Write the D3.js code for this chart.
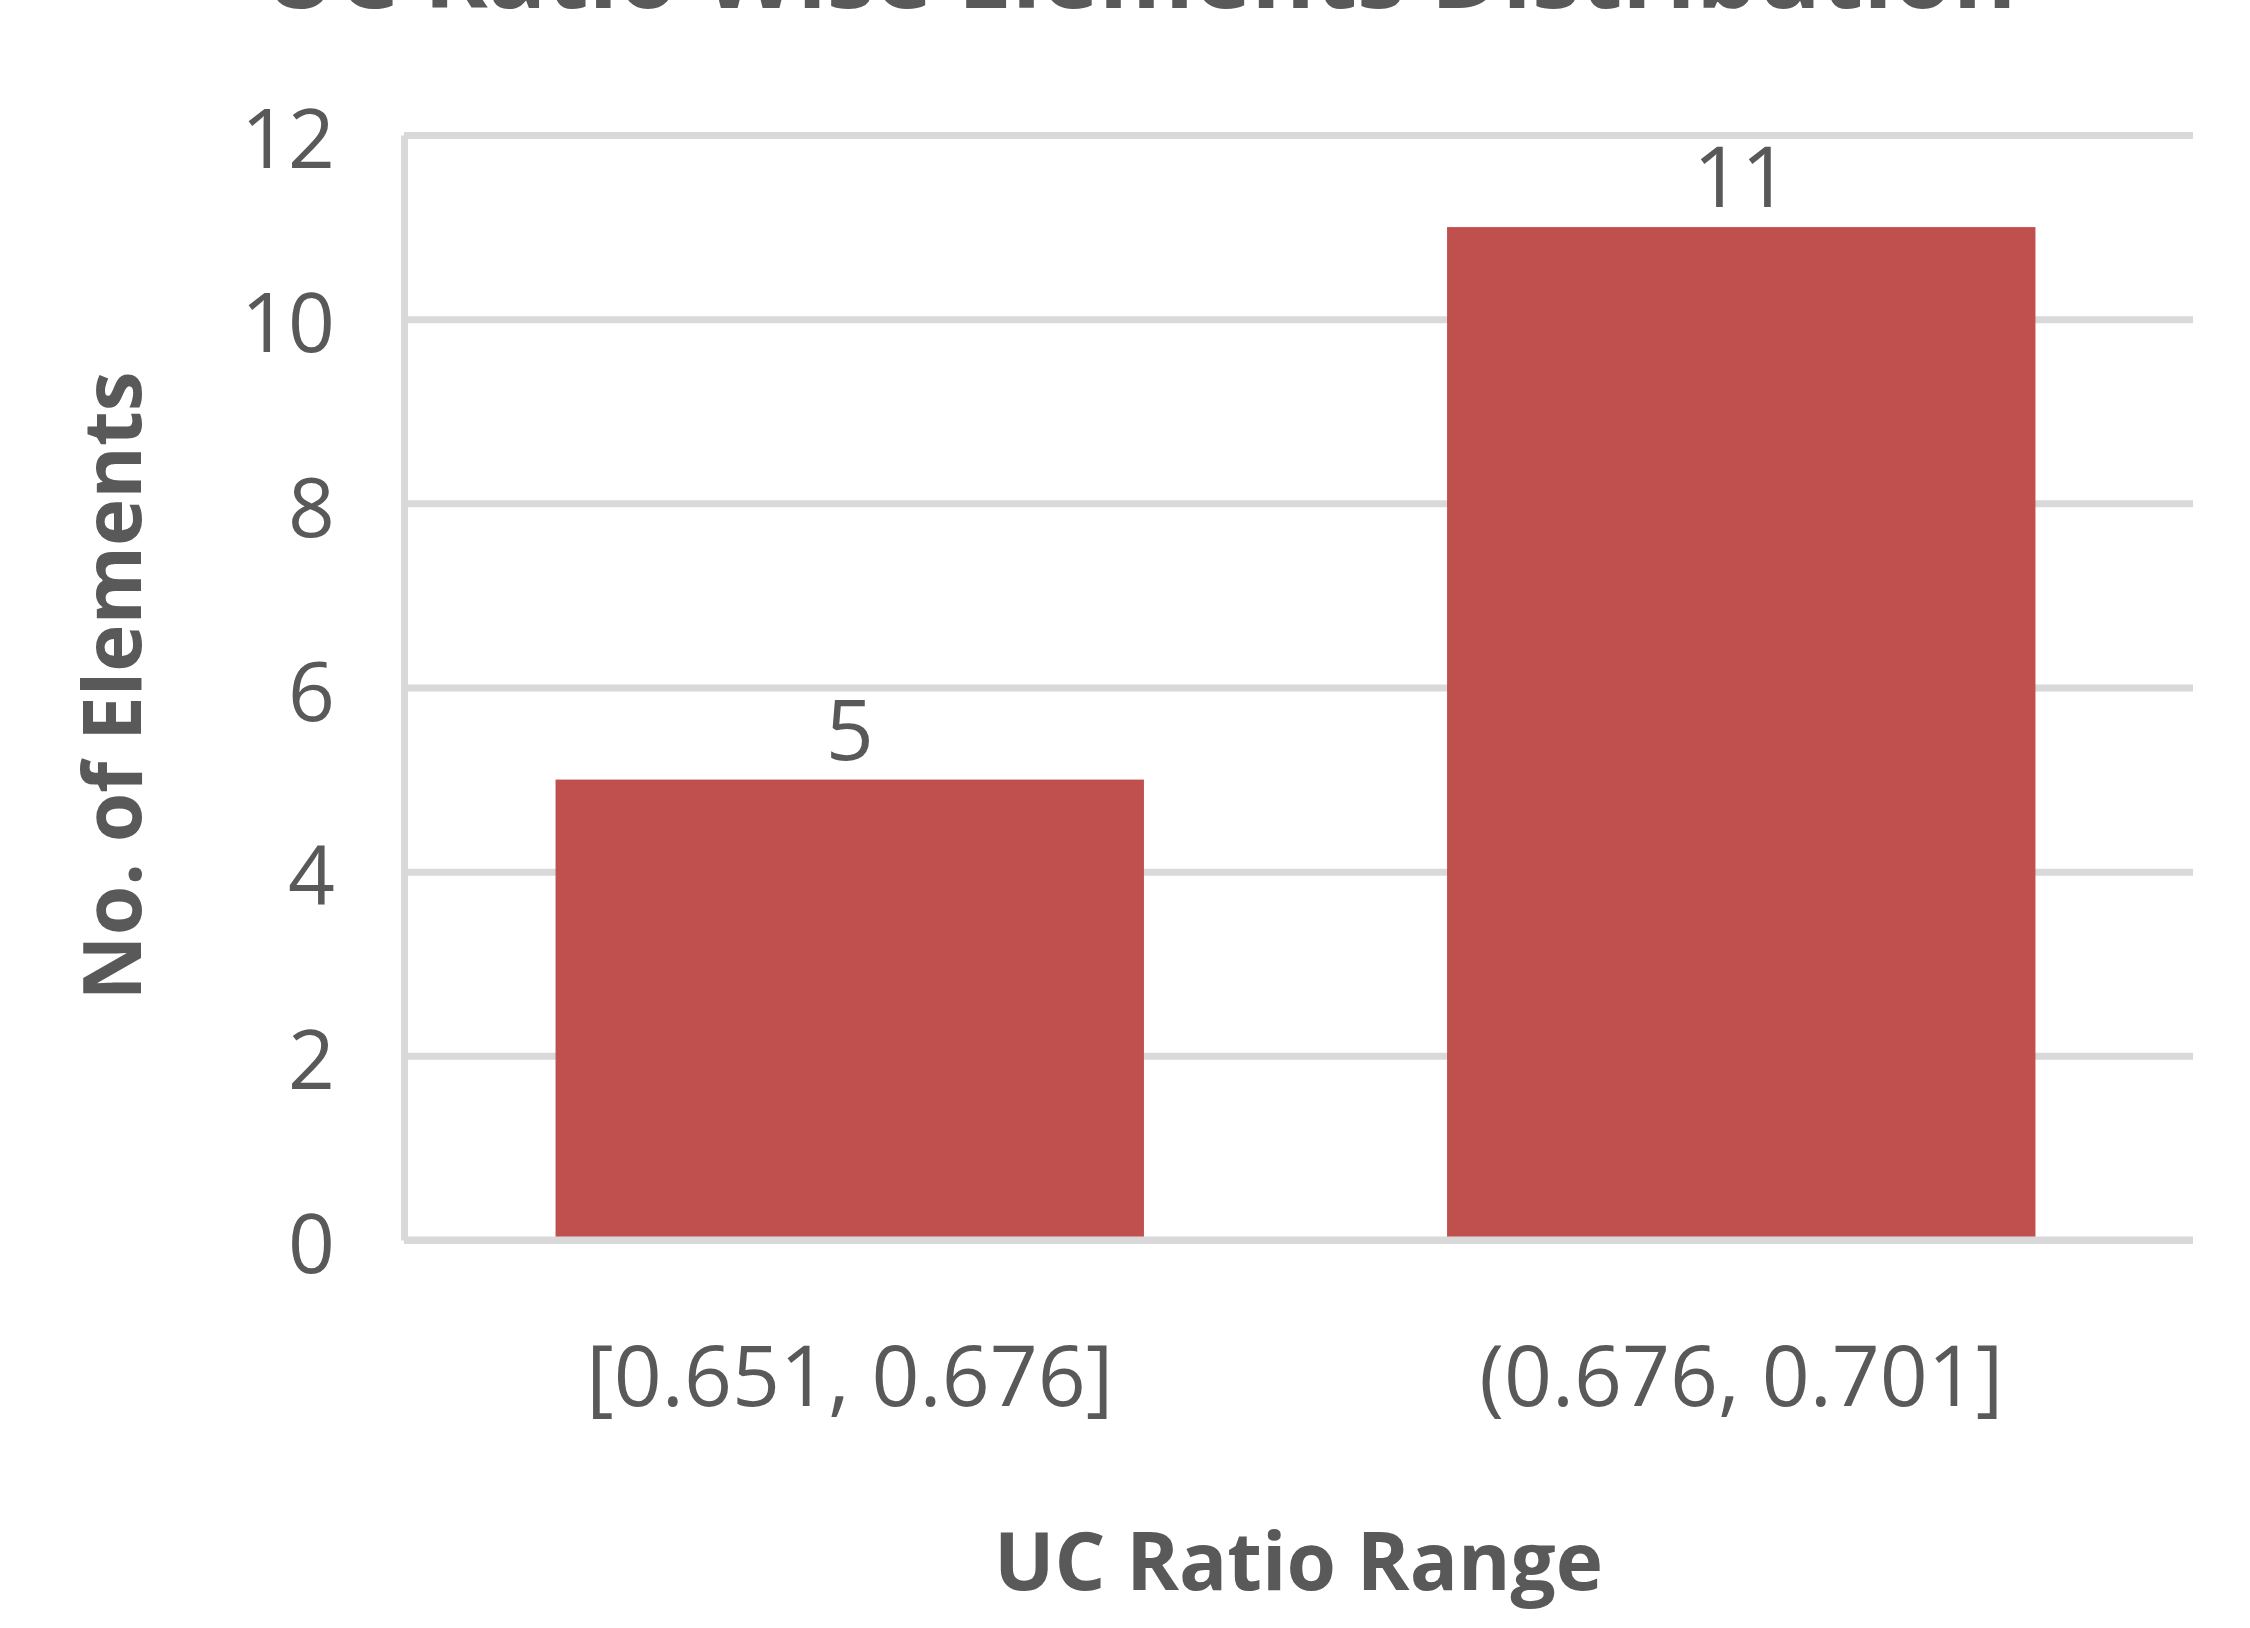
<!DOCTYPE html>
<html>
<head>
<meta charset="utf-8">
<script src="https://cdn.jsdelivr.net/npm/d3@7"></script>
<style>
  html, body { margin: 0; padding: 0; background: #fff; }
  svg { display: block; }
</style>
</head>
<body>
<div id="chart"></div>
<script>
// chart data
const categories = ["[0.651, 0.676]", "(0.676, 0.701]"];
const counts = [5, 11];
const yTicks = [0, 2, 4, 6, 8, 10, 12];
const chartTitle = "UC Ratio Wise Elements Distribution";
const xTitle = "UC Ratio Range";
const yTitle = "No. of Elements";

const width = 2250;
const height = 1628;
const margin = { top: 135, right: 57, bottom: 388, left: 404 };
const innerW = width - margin.left - margin.right;
const innerH = height - margin.top - margin.bottom;

const textColor = "#595959";
const gridColor = "#d9d9d9";
const barColor = "#c0504d";
const font = "'Open Sans', 'Liberation Sans', sans-serif";

const svg = d3.select("#chart")
    .append("svg")
    .attr("width", width)
    .attr("height", height)
    .style("font-family", font);

const g = svg.append("g")
    .attr("transform", `translate(${margin.left},${margin.top})`);

const x = d3.scaleBand()
    .domain(categories)
    .range([0, innerW - 6])
    .paddingInner(0.34)
    .paddingOuter(0.17);

const y = d3.scaleLinear()
    .domain([0, 12])
    .range([innerH, 0]);

// y axis + gridlines
const yAxis = g.append("g")
    .call(d3.axisLeft(y)
        .tickValues(yTicks)
        .tickSizeInner(-innerW)
        .tickSizeOuter(0)
        .tickPadding(69));

yAxis.select(".domain")
    .attr("stroke", gridColor)
    .attr("stroke-width", 7);

yAxis.selectAll(".tick line")
    .attr("stroke", gridColor)
    .attr("stroke-width", 7);

yAxis.selectAll(".tick text")
    .attr("fill", textColor)
    .attr("font-size", 82)
    .attr("font-family", font)
    .attr("dy", "0.4em");

// bars
g.selectAll("rect.bar")
    .data(categories)
    .join("rect")
    .attr("class", "bar")
    .attr("x", d => x(d))
    .attr("width", x.bandwidth())
    .attr("y", (d, i) => y(counts[i]))
    .attr("height", (d, i) => y(0) - y(counts[i]) - 3)
    .attr("fill", barColor);

// data labels
g.selectAll("text.val")
    .data(categories)
    .join("text")
    .attr("class", "val")
    .attr("x", d => x(d) + x.bandwidth() / 2)
    .attr("y", (d, i) => y(counts[i]) - 20)
    .attr("text-anchor", "middle")
    .attr("fill", textColor)
    .attr("font-size", 84)
    .text((d, i) => counts[i]);

// x axis (category labels)
const xAxis = g.append("g")
    .attr("transform", `translate(0,${innerH})`)
    .call(d3.axisBottom(x).tickSize(0).tickPadding(106));

xAxis.select(".domain").remove();
xAxis.selectAll(".tick text")
    .attr("fill", textColor)
    .attr("font-size", 84)
    .attr("font-family", font);

// baseline over the bars
g.append("line")
    .attr("x1", 0)
    .attr("x2", innerW)
    .attr("y1", y(0))
    .attr("y2", y(0))
    .attr("stroke", gridColor)
    .attr("stroke-width", 7);

// axis titles
svg.append("text")
    .attr("x", margin.left + innerW / 2)
    .attr("y", 1590)
    .attr("text-anchor", "middle")
    .attr("fill", textColor)
    .attr("font-size", 80)
    .attr("font-weight", "bold")
    .text(xTitle);

svg.append("text")
    .attr("transform", "translate(141,686) rotate(-90)")
    .attr("text-anchor", "middle")
    .attr("fill", textColor)
    .attr("font-size", 80)
    .attr("font-weight", "bold")
    .text(yTitle);

// title, cut off at the top edge
svg.append("text")
    .attr("x", 1140)
    .attr("y", 8)
    .attr("text-anchor", "middle")
    .attr("fill", textColor)
    .attr("font-size", 97)
    .attr("font-weight", "bold")
    .text(chartTitle);
</script>
</body>
</html>
